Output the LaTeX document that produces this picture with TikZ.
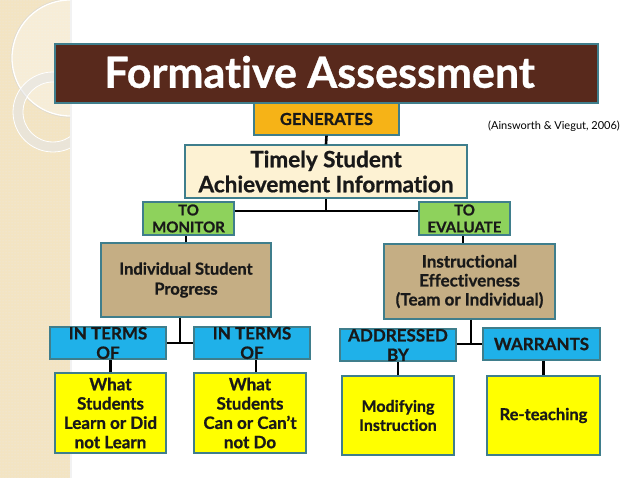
\documentclass[tikz,border=0pt]{standalone}
\usepackage{fontspec}
\setmainfont{Lato}[Ligatures=CommonOff, BoldFeatures={FakeBold=0.8}]
\usetikzlibrary{patterns}
\definecolor{strip}{HTML}{F3E4C2}
\definecolor{titlebg}{HTML}{58291C}
\definecolor{edge}{HTML}{3F7E8C}
\definecolor{genc}{HTML}{F6B317}
\definecolor{cream}{HTML}{FDF2D3}
\definecolor{greenc}{HTML}{8ED25C}
\definecolor{tanc}{HTML}{C5AE84}
\definecolor{bluec}{HTML}{1FB1E9}
\definecolor{yel}{HTML}{FFFF00}
\tikzset{
  box/.style={draw=edge, line width=1.3pt, inner sep=0pt, align=center, font=\bfseries, text=black!90},
  conn/.style={line width=2.6pt, black},
}
\newcommand{\fsz}[2]{\fontsize{#1}{#2}\selectfont\bfseries}
\begin{document}
\begin{tikzpicture}[x=1pt,y=-1pt]
\useasboundingbox (0,0) rectangle (638,478);
\fill[white] (0,0) rectangle (638,478);
% left strip
\fill[strip] (0,0) rectangle (70,478);
\fill[pattern=dots, pattern color=black!8] (0,0) rectangle (70,478);
\fill[black!5] (70,0) rectangle (72,478);
\begin{scope}
\clip (0,0) rectangle (70,478);
\fill[white, opacity=0.35] (70,58) circle (58);
\draw[white, line width=1.3pt] (70,58) circle (58);
\draw[black!15, line width=0.4pt] (70,58) circle (59.2);
\fill[black!10, opacity=0.6, even odd rule] (53,112) circle (40) (53,112) circle (30);
\draw[white, line width=0.8pt] (53,112) circle (40);
\draw[white, line width=0.8pt] (53,112) circle (30);
\end{scope}
% title
\node[box, fill=titlebg, minimum width=543pt, minimum height=59pt] (title) at (326.5,73.5) {};
\node[inner sep=0pt, text=white, font=\fsz{43}{46}] (ttext) at (319.5,72) {Formative Assessment};
\node[box, fill=genc, minimum width=145pt, minimum height=32pt, font=\fsz{16.5}{18}] (gen) at (326.5,119) {GENERATES};
\node[inner sep=0pt, font=\fontsize{11}{13}\selectfont] (cite) at (554,126) {(Ainsworth \& Viegut, 2006)};
\node[box, fill=cream, minimum width=282pt, minimum height=53pt, font=\fsz{22.5}{25}] (timely) at (326,171.5) {Timely Student\\Achievement Information};
\node[box, fill=greenc, minimum width=91pt, minimum height=33pt, font=\fsz{15}{17}] (mon) at (188.5,218.5) {TO\\MONITOR};
\node[box, fill=greenc, minimum width=91pt, minimum height=33pt, font=\fsz{15}{17}] (eval) at (464.5,218.5) {TO\\EVALUATE};
\node[box, fill=tanc, minimum width=170pt, minimum height=74pt, font=\fsz{16.5}{20}] (isp) at (186,280) {Individual Student\\Progress};
\node[box, fill=tanc, minimum width=171pt, minimum height=75pt, font=\fsz{17}{19}] (ie) at (469.5,281.5) {Instructional\\Effectiveness\\(Team or Individual)};
\node[box, fill=bluec, minimum width=116pt, minimum height=32pt, font=\fsz{17}{19.5}] (it1) at (108,343) {IN TERMS\\OF};
\node[box, fill=bluec, minimum width=116pt, minimum height=32pt, font=\fsz{17}{19.5}] (it2) at (252,343) {IN TERMS\\OF};
\node[box, fill=bluec, minimum width=116pt, minimum height=32pt, font=\fsz{17}{19.5}] (ab) at (398,345) {ADDRESSED\\BY};
\node[box, fill=bluec, minimum width=117pt, minimum height=32pt, font=\fsz{17}{19}] (war) at (541.5,344) {WARRANTS};
\node[box, fill=yel, minimum width=111pt, minimum height=80pt, font=\fsz{17}{19.3}] (y1) at (110.5,413) {What\\Students\\Learn or Did\\not Learn};
\node[box, fill=yel, minimum width=112pt, minimum height=80pt, font=\fsz{17}{19.3}] (y2) at (250,413) {What\\Students\\Can or Can’t\\not Do};
\node[box, fill=yel, minimum width=112pt, minimum height=79pt, font=\fsz{16}{19}] (y3) at (398,415.5) {Modifying\\Instruction};
\node[box, fill=yel, minimum width=113pt, minimum height=79pt, font=\fsz{16.5}{19}] (y4) at (543.5,415.5) {Re-teaching};
% connectors
\coordinate (j1) at (326,211);
\coordinate (j2) at (180,343);
\coordinate (j3) at (471,344);
\draw[conn] (gen.south) -- (timely.north);
\draw[conn] (timely.south) -- (j1);
\draw[conn] (mon.east |- j1) -- (eval.west |- j1);
\draw[conn] (isp.north) -- (isp.north |- mon.south);
\draw[conn] (ie.north -| 463,0) -- (mon.south -| 463,0);
\draw[conn] (j2 |- isp.south) -- (j2);
\draw[conn] (it1.east |- j2) -- (it2.west |- j2);
\draw[conn] (y1.north) -- (y1.north |- it1.south);
\draw[conn] (y2.north -| 256,0) -- (it2.south -| 256,0);
\draw[conn] (j3 |- ie.south) -- (j3);
\draw[conn] (ab.east |- j3) -- (war.west |- j3);
\draw[conn] (y3.north) -- (ab.south);
\draw[conn] (y4.north) -- (y4.north |- war.south);
\end{tikzpicture}
\end{document}
